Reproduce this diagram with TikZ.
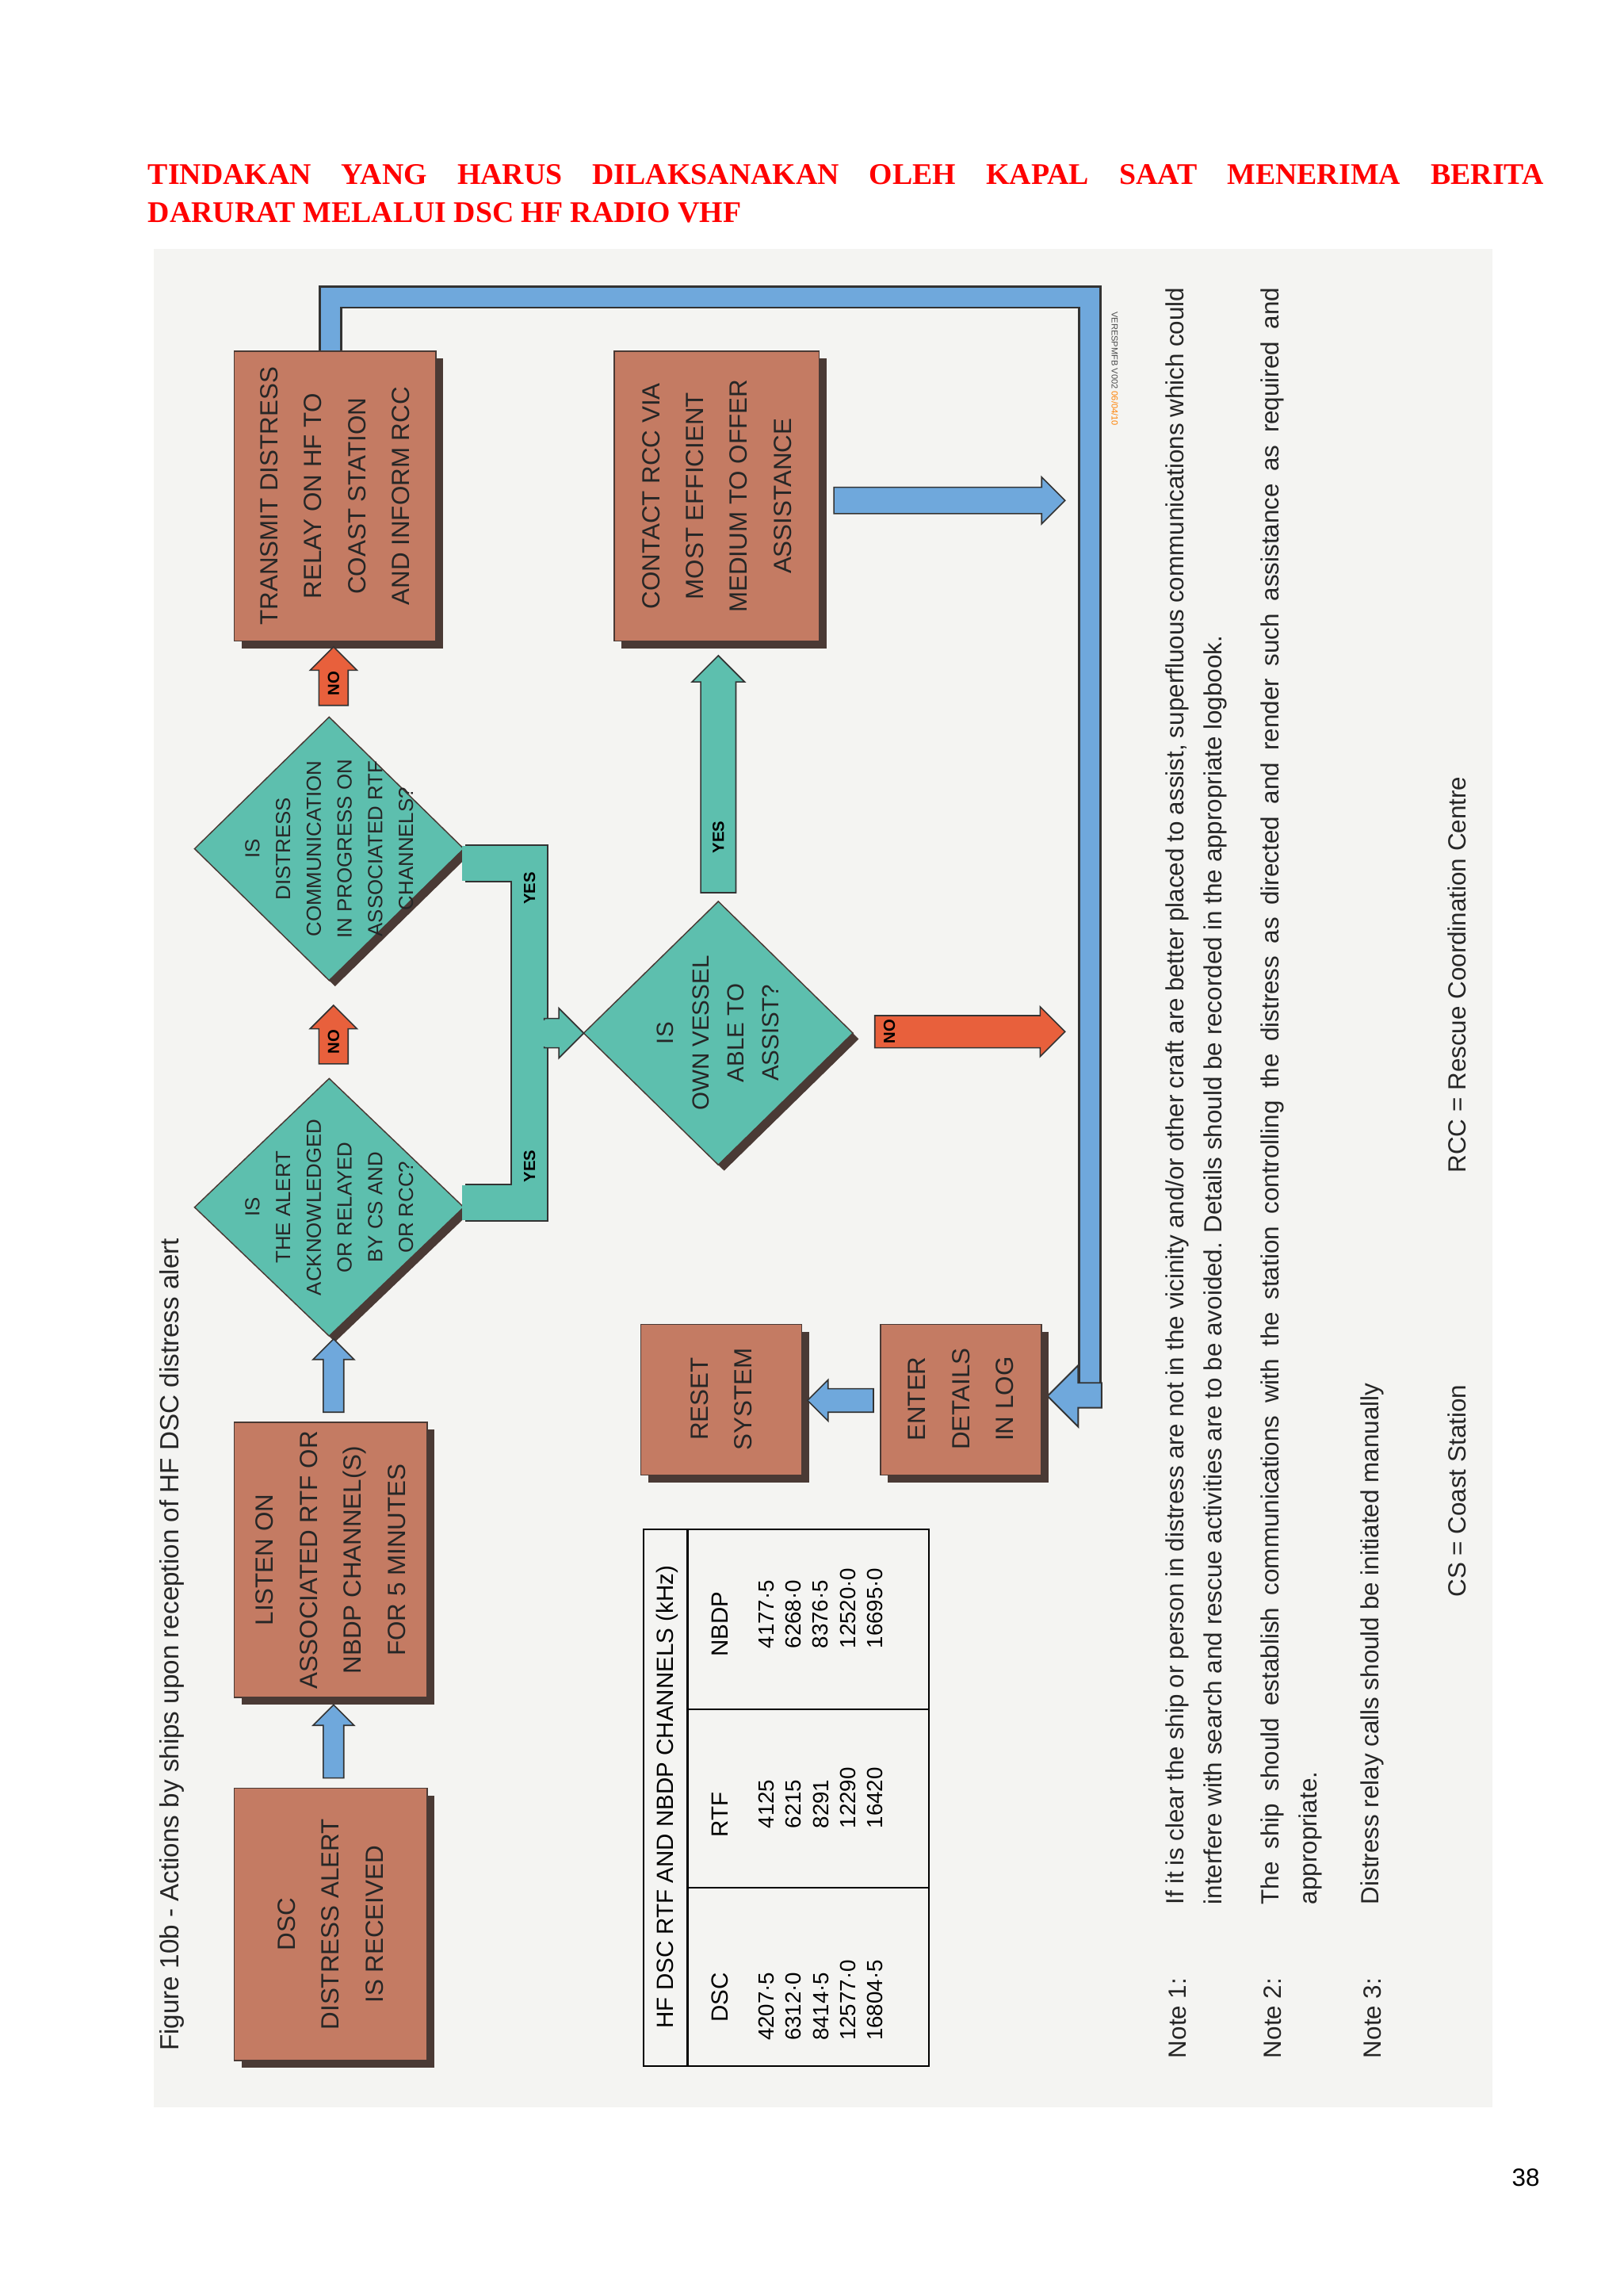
\documentclass[tikz,border=0pt]{standalone}
\usepackage{fontspec}
\setmainfont{Liberation Sans}
\newfontfamily\titlefont{Liberation Serif}
\definecolor{boxbrown}{HTML}{C47B63}
\definecolor{teal2}{HTML}{5DBFAE}
\definecolor{blue2}{HTML}{6FA8DC}
\definecolor{red2}{HTML}{E8603C}
\definecolor{shad}{HTML}{4A3A35}
\definecolor{scan}{HTML}{F4F4F2}
\newcommand\blkarrow[6]{\begin{scope}[shift={#2},rotate=#3]\filldraw[fill=#1,draw=black!80,line width=0.9pt] (0,-#5)--(#4-#6,-#5)--(#4-#6,-#6)--(#4,0)--(#4-#6,#6)--(#4-#6,#5)--(0,#5)--cycle;\end{scope}}
\begin{document}
\begin{tikzpicture}[x=1pt,y=-1pt,
 boxtxt/.style={rotate=90,align=center,font=\fontsize{17}{30}\selectfont,text=black!85},
 dtxt/.style={rotate=90,align=center,font=\fontsize{14}{21}\selectfont,text=black!85},
 rtxt/.style={rotate=90,font=\fontsize{17}{27}\selectfont,anchor=west,text=black!85},
 ttxt/.style={rotate=90,font=\fontsize{15}{18.5}\selectfont,anchor=west},
 lbl/.style={rotate=90,font=\bfseries\fontsize{11}{12}\selectfont}]
\useasboundingbox (0,0) rectangle (1110,1569);
\fill[white] (0,0) rectangle (1110,1569);
\fill[scan] (105,170) rectangle (1020,1440);
% title
\node[anchor=base west,text=red,font=\titlefont\bfseries\fontsize{20.5}{24}\selectfont,inner xsep=0pt] (t1) at (101,126) {\makebox[954pt][s]{TINDAKAN YANG HARUS DILAKSANAKAN OLEH KAPAL SAAT MENERIMA BERITA}};
\node[anchor=base west,text=red,font=\titlefont\bfseries\fontsize{20.5}{24}\selectfont,inner xsep=0pt] (t2) at (101,152) {DARURAT MELALUI DSC HF RADIO VHF};
\node[anchor=base east,font=\fontsize{17}{20}\selectfont] (pg) at (1056,1494) {38};
% caption
\node[rotate=90,anchor=base west,font=\fontsize{18}{20}\selectfont,text=black!85] (cap) at (122,1405) {Figure 10b - Actions by ships upon reception of HF DSC distress alert};
% big blue pipe
\draw[line width=16pt,black!80] (226,240) -- (226,203) -- (745,203) -- (745,952);
\draw[line width=13pt,blue2] (226,242) -- (226,203) -- (745,203) -- (745,952);
\filldraw[fill=blue2,draw=black!80,line width=1pt] (753,945) -- (753,962) -- (737,962) -- (737,975) -- (716,954) -- (737,933) -- (737,945) -- cycle;
% boxes with shadows
\foreach \a/\b/\c/\d in {160/1222/292/1408,160/972/292/1160,160/240/298/438,420/240/560/438,602/905/712/1008,438/905/548/1008}{
  \fill[shad] (\a+5,\b+5) rectangle (\c+5,\d+5);
  \filldraw[fill=boxbrown,draw=shad,line width=0.8pt] (\a,\b) rectangle (\c,\d);}
\node[boxtxt] (dsc) at (226,1315) {DSC\\DISTRESS ALERT\\IS RECEIVED};
\node[boxtxt] (listen) at (226,1066) {LISTEN ON\\ASSOCIATED RTF OR\\NBDP CHANNEL(S)\\FOR 5 MINUTES};
\node[boxtxt] (transmit) at (229,339) {TRANSMIT DISTRESS\\RELAY ON HF TO\\COAST STATION\\AND INFORM RCC};
\node[boxtxt] (contact) at (490,339) {CONTACT RCC VIA\\MOST EFFICIENT\\MEDIUM TO OFFER\\ASSISTANCE};
\node[boxtxt] (enter) at (657,956) {ENTER\\DETAILS\\IN LOG};
\node[boxtxt] (reset) at (493,956) {RESET\\SYSTEM};
% diamonds
\foreach \x/\y/\w/\h in {225/825/92/88,225/580/92/90,491/706/92/90}{
  \fill[shad] (\x+4,\y-\h+4) -- (\x+\w+4,\y+4) -- (\x+4,\y+\h+4) -- (\x-\w+4,\y+4) -- cycle;
  \filldraw[fill=teal2,draw=shad,line width=0.8pt] (\x,\y-\h) -- (\x+\w,\y) -- (\x,\y+\h) -- (\x-\w,\y) -- cycle;}
\node[dtxt] (d1) at (225,825) {IS\\THE ALERT\\ACKNOWLEDGED\\OR RELAYED\\BY CS AND\\OR RCC?};
\node[dtxt] (d2) at (225,580) {IS\\DISTRESS\\COMMUNICATION\\IN PROGRESS ON\\ASSOCIATED RTF\\CHANNELS?};
\node[dtxt,font=\fontsize{16}{24}\selectfont] (d3) at (491,706) {IS\\OWN VESSEL\\ABLE TO\\ASSIST?};
% blue small arrows
\blkarrow{blue2}{(228,1215)}{90}{50}{7}{14}
\blkarrow{blue2}{(228,965)}{90}{50}{7}{14}
\blkarrow{blue2}{(570,342)}{0}{158}{9}{16}
\blkarrow{blue2}{(597,957)}{180}{45}{8}{14}
% red NO arrows
\blkarrow{red2}{(228,727)}{90}{40}{10}{16}
\node[lbl] at (228,712) {NO};
\blkarrow{red2}{(228,482)}{90}{40}{10}{16}
\node[lbl] at (228,467) {NO};
\blkarrow{red2}{(598,705)}{0}{130}{11}{17}
\node[lbl] at (608,705) {NO};
% teal YES bracket
\draw[line width=26pt,black!80,line join=miter] (318,590) -- (362,590) -- (362,822) -- (318,822);
\draw[line width=24pt,teal2,line join=miter] (316,590) -- (362,590) -- (362,822) -- (316,822);
\blkarrow{teal2}{(372,706)}{0}{27}{10}{17}
\fill[teal2] (352,697) rectangle (374,715);
\node[lbl] at (362,607) {YES};
\node[lbl] at (362,797) {YES};
\blkarrow{teal2}{(491,610)}{90}{162}{12}{18}
\node[lbl] at (491,572) {YES};
% table
\draw[line width=1.2pt] (440,1045) rectangle (635,1412);
\draw[line width=1.2pt] (470,1045) -- (470,1412);
\draw[line width=1.2pt] (470,1168) -- (635,1168) (470,1290) -- (635,1290);
\node[rotate=90,font=\fontsize{16}{18}\selectfont] (th) at (456,1228) {HF DSC RTF AND NBDP CHANNELS (kHz)};
\node[rotate=90,font=\fontsize{16}{18}\selectfont] at (492,1365) {DSC};
\node[rotate=90,font=\fontsize{16}{18}\selectfont] at (492,1240) {RTF};
\node[rotate=90,font=\fontsize{16}{18}\selectfont] at (492,1110) {NBDP};
\node[ttxt,align=left] at (561,1398) {4207·5\\6312·0\\8414·5\\12577·0\\16804·5};
\node[ttxt,align=left] at (561,1253) {4125\\6215\\8291\\12290\\16420};
\node[ttxt,align=left] at (561,1130) {4177·5\\6268·0\\8376·5\\12520·0\\16695·0};
% code
\node[rotate=-90,font=\fontsize{6}{7}\selectfont,text=black!70] (code) at (762,252) {VERESPMFB V002 \textcolor{orange}{06/04/10}};
% notes
\node[rtxt] at (805,1410) {Note 1:};
\node[rtxt] at (805,1305) {\makebox[1105pt][s]{If it is clear the ship or person in distress are not in the vicinity and/or other craft are better placed to assist, superfluous communications which could}};
\node[rtxt] at (831,1305) {interfere with search and rescue activities are to be avoided. Details should be recorded in the appropriate logbook.};
\node[rtxt] at (870,1410) {Note 2:};
\node[rtxt] at (870,1305) {\makebox[1105pt][s]{The ship should establish communications with the station controlling the distress as directed and render such assistance as required and}};
\node[rtxt] at (896,1305) {appropriate.};
\node[rtxt] at (938,1410) {Note 3:};
\node[rtxt] at (938,1305) {Distress relay calls should be initiated manually};
\node[rtxt] at (996,1095) {CS = Coast Station};
\node[rtxt] at (996,805) {RCC = Rescue Coordination Centre};
\end{tikzpicture}
\end{document}
